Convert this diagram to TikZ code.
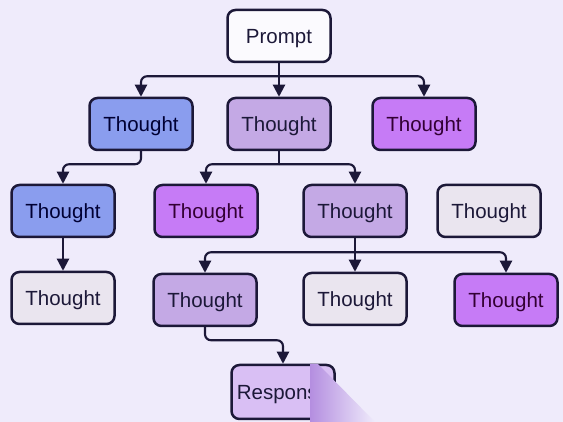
\documentclass[tikz,border=0pt]{standalone}
\usepackage{fontspec}
\setmainfont{Liberation Sans}
\usetikzlibrary{arrows.meta, calc}

\definecolor{bgcol}{HTML}{EFEBFB}
\definecolor{edgecol}{HTML}{1C1838}
\definecolor{whitecol}{HTML}{FBFAFE}
\definecolor{bluecol}{HTML}{8A9DEE}
\definecolor{lavcol}{HTML}{C4A9E5}
\definecolor{purpcol}{HTML}{C67BF6}
\definecolor{greycol}{HTML}{EAE5EF}
\definecolor{respcol}{HTML}{D9BFF4}
\definecolor{streakcol}{HTML}{B48EE0}

\tikzset{
  box/.style={draw=edgecol, line width=2.5pt, rounded corners=8pt,
    minimum width=103pt, minimum height=52pt, inner sep=0pt,
    text height=14.5pt, text depth=0pt,
    font=\fontsize{20.5}{24}\selectfont},
  promptbox/.style={box, fill=whitecol, text=edgecol},
  bluebox/.style={box, fill=bluecol, text=blue!20!black},
  lavbox/.style={box, fill=lavcol, text=edgecol},
  purpbox/.style={box, fill=purpcol, text=violet!40!black},
  greybox/.style={box, fill=greycol, text=edgecol},
  link/.style={draw=edgecol, line width=2.1pt, rounded corners=6pt},
  arrowlink/.style={link, -{Triangle[length=12pt, width=12pt]}}
}

\begin{document}
\begin{tikzpicture}[x=1pt, y=-1pt]

    % Background and frame
    \fill[bgcol] (0,0) rectangle (563,422);
    \useasboundingbox (0,0) rectangle (563,422);

    % Top prompt
    \node[promptbox] (prompt) at (279,36) {Prompt};

    % First row of thoughts
    \node[bluebox] (t11) at (141,124) {Thought};
    \node[lavbox]  (t12) at (279,124) {Thought};
    \node[purpbox] (t13) at (424,124) {Thought};

    % Second row of thoughts
    \node[bluebox] (t21) at (63,211) {Thought};
    \node[purpbox] (t22) at (206,211) {Thought};
    \node[lavbox]  (t23) at (355,211) {Thought};
    \node[greybox] (t24) at (489,211) {Thought};

    % Third row of thoughts
    \node[greybox] (t31) at (63,298) {Thought};
    \node[lavbox]  (t32) at (205,300) {Thought};
    \node[greybox] (t33) at (355,299) {Thought};
    \node[purpbox] (t34) at (506,300) {Thought};

    % Final response
    \node[box, fill=respcol, text=edgecol, minimum height=54pt] (resp) at (283,392) {Response};

    % Branches out of the prompt
    \coordinate (jp) at ($(prompt.south)+(0,13)$);
    \draw[arrowlink] (prompt.south) -- (t12.north);
    \draw[arrowlink] (jp) -| (t11.north);
    \draw[arrowlink] (jp) -| (t13.north);

    % Branches out of the first row
    \draw[arrowlink] (t11.south) -- ++(0,13) -| (t21.north);
    \coordinate (j12) at ($(t12.south)+(0,13)$);
    \draw[link] (t12.south) -- (j12);
    \draw[arrowlink] (j12) -| (t22.north);
    \draw[arrowlink] (j12) -| (t23.north);

    % Branches out of the second row
    \draw[arrowlink] (t21.south) -- (t31.north);
    \coordinate (j23) at ($(t23.south)+(0,14)$);
    \draw[arrowlink] (t23.south) -- (t33.north);
    \draw[arrowlink] (j23) -| (t32.north);
    \draw[arrowlink] (j23) -| (t34.north);

    % Path to the response
    \draw[arrowlink] (t32.south) -- ++(0,13) -| (resp.north);

    % Smeared streak over the response box
    \shade[left color=streakcol, right color=bgcol, shading angle=90]
      (310,364) -- (318,364) -- (375,422) -- (310,422) -- cycle;

\end{tikzpicture}
\end{document}
